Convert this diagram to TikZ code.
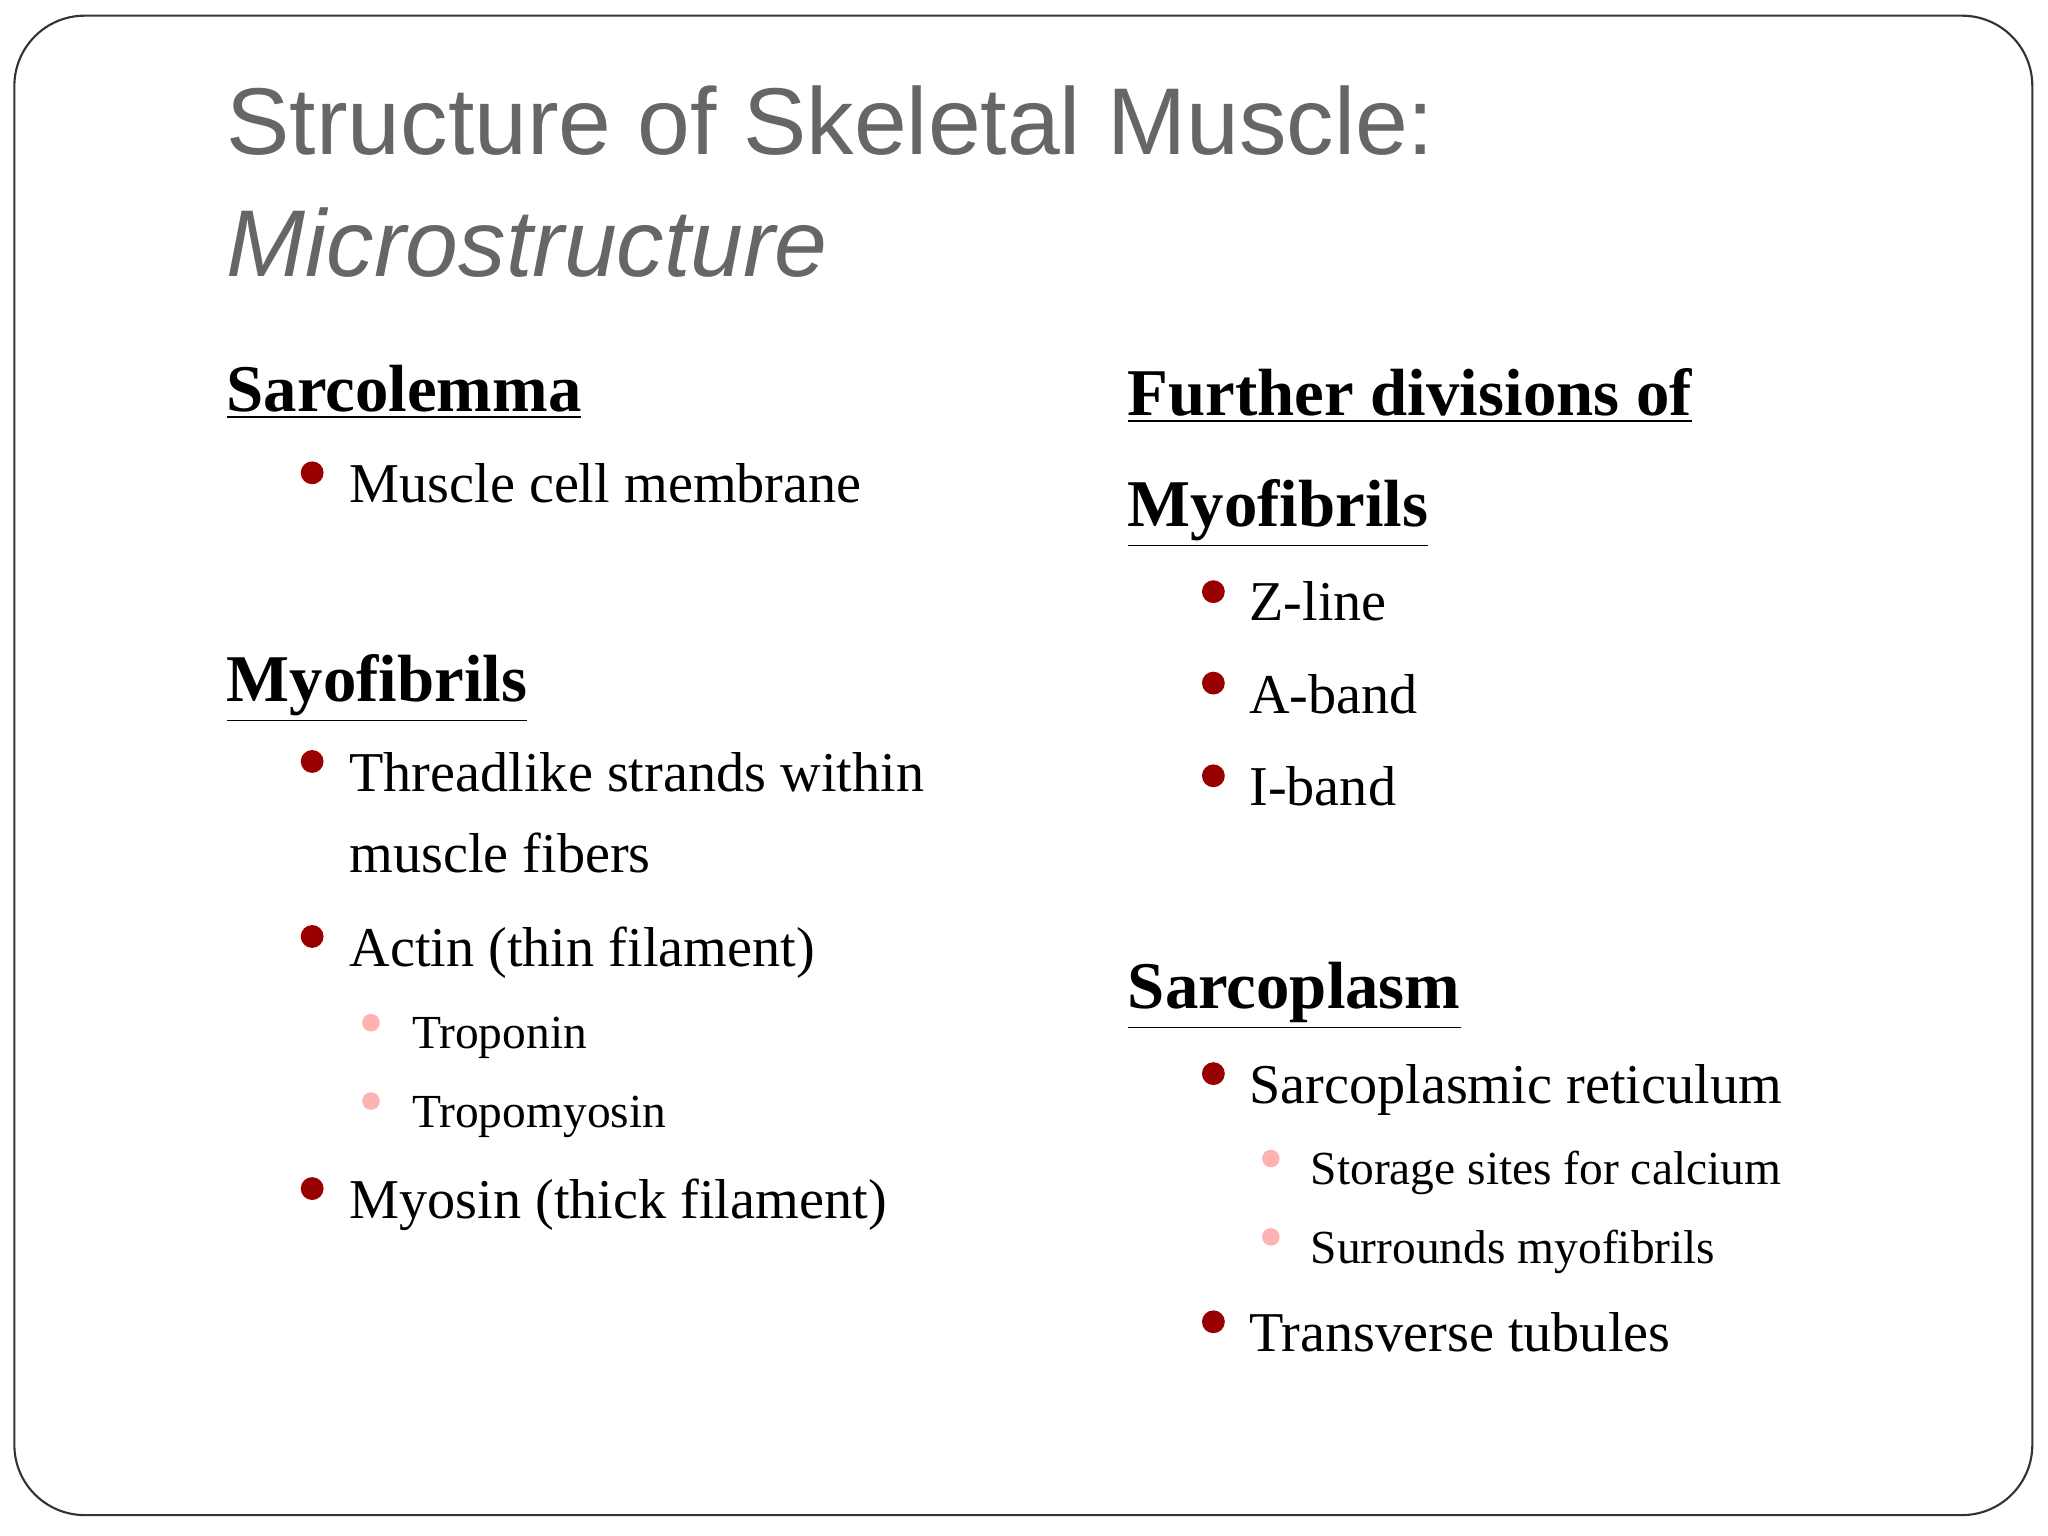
\documentclass[tikz,border=0pt]{standalone}
\usepackage{fontspec}
\setmainfont{Liberation Serif}
\newfontfamily\titlefont{Liberation Sans}
\begin{document}
\begin{tikzpicture}[x=0.013061cm,y=-0.013061cm,
  tt/.style={anchor=base west,inner sep=0,font=\titlefont\fontsize{27}{30}\selectfont,text=black!60},
  hd/.style={anchor=base west,inner sep=0,font=\bfseries\fontsize{19}{22}\selectfont},
  bt/.style={anchor=base west,inner sep=0,font=\fontsize{16}{19}\selectfont},
  sb/.style={anchor=base west,inner sep=0,font=\fontsize{13.5}{16}\selectfont},
  b1/.style={circle,fill=red!60!black,inner sep=0,minimum size=6.5pt},
  b2/.style={circle,fill=red!30!white,inner sep=0,minimum size=5pt}]
\useasboundingbox (0,0) rectangle (1568,1176);
\fill[white] (0,0) rectangle (1568,1176);
\draw[black!80,line width=0.6pt,rounded corners=20pt] (11,12) rectangle (1556,1160);
\node[tt] (t1) at (173,118) {Structure of Skeletal Muscle:};
\node[tt] (t2) at (173,212) {\itshape Microstructure};
% left
\node[hd] (h1) at (173,315) {\underline{Sarcolemma}};
\node[b1] (p1) at (239,362) {}; \node[bt] (l1) at (267,385) {Muscle cell membrane};
\node[hd] (h2) at (173,537) {\underline{Myofibrils}};
\node[b1] (p2) at (239,583) {}; \node[bt] (l2) at (267,606) {Threadlike strands within};
\node[bt] (l2b) at (267,668) {muscle fibers};
\node[b1] (p3) at (239,717) {}; \node[bt] (l3) at (267,740) {Actin (thin filament)};
\node[b2] (q1) at (284,783) {}; \node[sb] (s1) at (315,803) {Troponin};
\node[b2] (q2) at (284,843) {}; \node[sb] (s2) at (315,863) {Tropomyosin};
\node[b1] (p4) at (239,910) {}; \node[bt] (l4) at (267,933) {Myosin (thick filament)};
% right
\node[hd] (h3) at (863,318) {\underline{Further divisions of}};
\node[hd] (h4) at (863,403) {\underline{Myofibrils}};
\node[b1] (p5) at (929,453) {}; \node[bt] (r1) at (956,475) {Z-line};
\node[b1] (p6) at (929,523) {}; \node[bt] (r2) at (956,546) {A-band};
\node[b1] (p7) at (929,594) {}; \node[bt] (r3) at (956,617) {I-band};
\node[hd] (h5) at (863,772) {\underline{Sarcoplasm}};
\node[b1] (p8) at (929,822) {}; \node[bt] (r4) at (956,845) {Sarcoplasmic reticulum};
\node[b2] (q3) at (973,887) {}; \node[sb] (s3) at (1003,907) {Storage sites for calcium};
\node[b2] (q4) at (973,947) {}; \node[sb] (s4) at (1003,967) {Surrounds myofibrils};
\node[b1] (p9) at (929,1012) {}; \node[bt] (r5) at (956,1035) {Transverse tubules};
\end{tikzpicture}
\end{document}
